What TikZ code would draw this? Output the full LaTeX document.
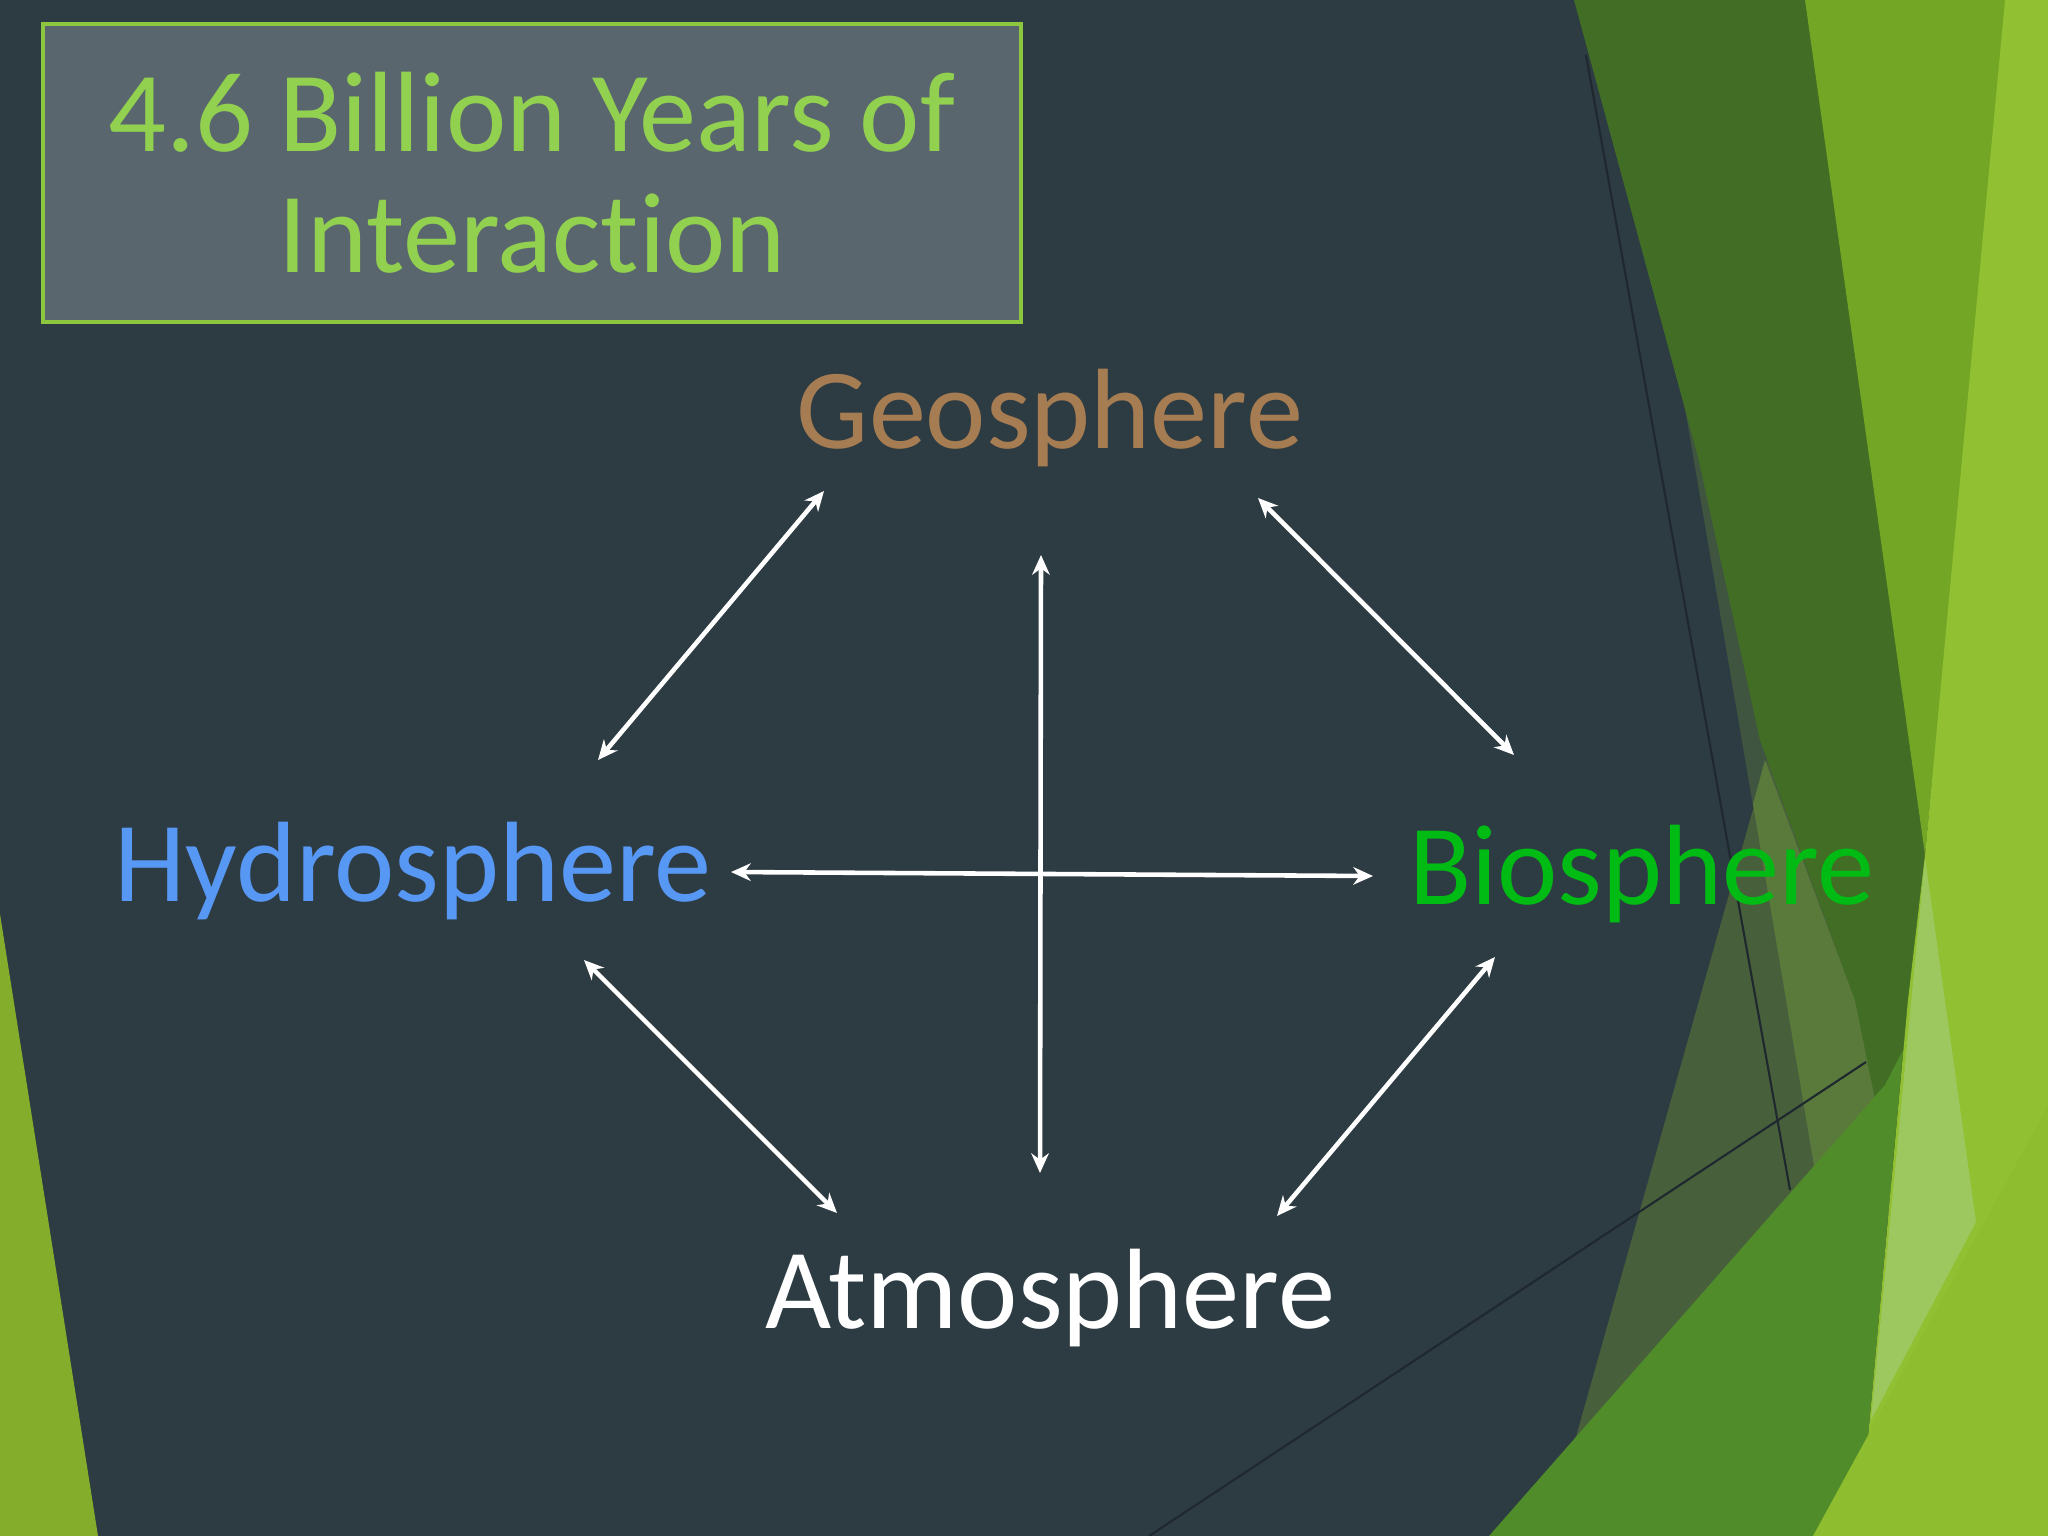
\documentclass[tikz,border=0pt]{standalone}
\usepackage{fontspec}
\setmainfont{Carlito}[Ligatures=NoCommon]
\usepackage{tikz}
\usetikzlibrary{calc}
\usetikzlibrary{arrows}
\usetikzlibrary{arrows.meta}
\usetikzlibrary{positioning}
\definecolor{slate}{RGB}{45, 59, 66}
\definecolor{slatebox}{RGB}{90, 102, 110}
\definecolor{lime}{RGB}{141, 198, 63}
\definecolor{limetext}{RGB}{146, 208, 80}
\definecolor{moss}{RGB}{132, 173, 44}
\definecolor{forest}{RGB}{65, 110, 36}
\definecolor{leaf}{RGB}{114, 166, 36}
\definecolor{spring}{RGB}{145, 192, 50}
\definecolor{springlow}{RGB}{142, 189, 47}
\definecolor{pale}{RGB}{157, 200, 95}
\definecolor{meadow}{RGB}{80, 141, 42}
\definecolor{haze}{RGB}{63, 85, 64}
\definecolor{smoke}{RGB}{72, 95, 60}
\definecolor{olivine}{RGB}{90, 122, 60}
\definecolor{shadow}{RGB}{30, 40, 46}
\definecolor{earth}{RGB}{166, 124, 82}
\definecolor{water}{RGB}{88, 152, 245}
\definecolor{life}{RGB}{0, 187, 20}

\begin{document}
\begin{tikzpicture}[x=0.01cm, y=-0.01cm,
        sphere/.style={font=\fontsize{32.5}{36}\selectfont, anchor=base, inner sep=0pt},
        link/.style={<->, >={Stealth[length=5.6pt, width=5pt, inset=1.8pt]}, white, line width=1.3pt}]
            \fill[slate]     (0,0) rectangle (2048,1536);
            \useasboundingbox (0,0) rectangle (2048,1536);
            % facets
            \fill[moss]      (0,914) -- (98,1536) -- (0,1536) -- cycle;
            \fill[haze]      (1615,0) -- (1850,0) -- (1850,1160) -- (1813,1156) -- cycle;
            \fill[smoke]     (1548,1536) -- (1860,430) -- (1900,1100) -- (1880,1536) -- cycle;
            \fill[olivine]   (1753,804) -- (1835,1290) -- (1900,1200) -- (1855,1000) -- (1765,760) -- cycle;
            \draw[shadow, line width=0.6pt] (1586,55) -- (1790,1190);
            \draw[shadow, line width=0.6pt] (1149,1536) -- (1866,1062);
            \fill[forest]    (1574,0) -- (1810,0) -- (1925,855) -- (1892,1184) -- (1855,1000) -- (1760,740) -- (1698,457) -- cycle;
            \fill[leaf]      (1805,0) -- (2008,0) -- (1925,855) -- cycle;
            \fill[spring]    (2005,0) -- (2048,0) -- (2048,1536) -- (1859,1536) -- (1908,1000) -- (1925,855) -- cycle;
            \fill[pale]      (1925,858) -- (1976,1222) -- (1871,1420) -- cycle;
            \fill[meadow]    (1489,1536) -- (1885,1085) -- (1903,1050) -- (1859,1536) -- cycle;
            \fill[springlow] (2048,1106) -- (2048,1536) -- (1813,1536) -- cycle;
            % title
            \node[draw=lime, fill=slatebox, line width=1.1pt, minimum width=9.78cm, minimum height=2.98cm,
                  text=limetext, align=center, font=\fontsize{32.5}{34.5}\selectfont] (title) at (532,173)
                 {4.6 Billion Years of\\Interaction};
            % spheres
            \node[sphere, text=earth] (geo)   at (1050, 448) {Geosphere};
            \node[sphere, text=water] (hydro) at ( 413, 901) {Hydrosphere};
            \node[sphere, text=life]  (bio)   at (1642, 904) {Biosphere};
            \node[sphere, text=white] (atmo)  at (1050,1328) {Atmosphere};
            \coordinate (g2h) at ( 824, 491);  \coordinate (h2g) at ( 598, 760);
            \coordinate (g2b) at (1258, 498);  \coordinate (b2g) at (1514, 755);
            \coordinate (g2a) at (1041, 555);  \coordinate (a2g) at (1040,1173);
            \coordinate (h2b) at ( 731, 872);  \coordinate (b2h) at (1373, 876);
            \coordinate (h2a) at ( 584, 960);  \coordinate (a2h) at ( 837,1213);
            \coordinate (b2a) at (1495, 957);  \coordinate (a2b) at (1277,1216);
            \draw[link] (g2h) -- (h2g);
            \draw[link] (g2b) -- (b2g);
            \draw[link] (g2a) -- (a2g);
            \draw[link] (h2b) -- (b2h);
            \draw[link] (h2a) -- (a2h);
            \draw[link] (b2a) -- (a2b);
        \end{tikzpicture}
\end{document}
